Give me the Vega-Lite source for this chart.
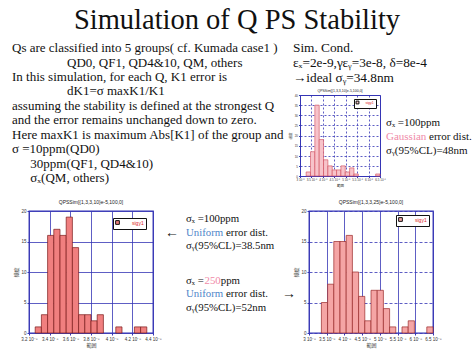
{
  "$schema": "https://vega.github.io/schema/vega-lite/v6.json",
  "padding": 0,
  "background": "white",
  "spacing": 0,
  "resolve": {"scale": {"color": "independent"}, "legend": {"color": "independent"}},
  "config": {
    "view": {"stroke": null},
    "concat": {"spacing": 0},
    "text": {"font": "Liberation Serif", "color": "#111"},
    "title": {"font": "Liberation Sans", "fontSize": 5, "fontWeight": "normal", "offset": 3, "color": "#222"},
    "axis": {
      "labelFont": "Liberation Sans", "labelFontSize": 4.5, "labelColor": "#333", "labelPadding": 1,
      "titleFont": "Noto Sans CJK JP", "titleFontSize": 5, "titleFontWeight": "normal", "titleColor": "#333", "titlePadding": 2,
      "domain": false, "tickColor": "#3535b5", "tickSize": 2, "gridColor": "#3535b5", "gridWidth": 0.8, "gridOpacity": 1,
      "labelOverlap": false, "labelFlush": false
    }
  },
  "datasets": {
    "title": [{"text": "Simulation of Q PS Stability"}],
    "leftA": [
      {"line": 1, "indent": 0, "text": "Qs are classified into 5 groups( cf. Kumada case1 )"},
      {"line": 2, "indent": 12, "text": "QD0, QF1, QD4&10, QM, others"},
      {"line": 3, "indent": 0, "text": "In this simulation, for each Q, K1 error is"}
    ],
    "leftB": [
      {"line": 4, "indent": 12, "text": "dK1=σ maxK1/K1"},
      {"line": 5, "indent": 0, "text": "assuming the stability is defined at the strongest Q"},
      {"line": 6, "indent": 0, "text": "and the error remains unchanged down to zero."},
      {"line": 7, "indent": 0, "text": "Here maxK1 is maximum Abs[K1] of the group and"},
      {"line": 8, "indent": 0, "text": "σ =10ppm(QD0)"},
      {"line": 9, "indent": 4, "text": "30ppm(QF1, QD4&10)"},
      {"line": 10, "indent": 4, "text": "σₓ(QM, others)"}
    ],
    "rightTop": [
      {"line": 1, "indent": 0, "text": "Sim. Cond."},
      {"line": 2, "indent": 0, "text": "εₓ=2e-9,γεᵧ=3e-8, δ=8e-4"},
      {"line": 3, "indent": 0, "text": "→ideal σᵧ=34.8nm"}
    ],
    "sideBlack": [
      {"line": 1, "indent": 0, "text": "σₓ =100ppm"},
      {"line": 3, "indent": 0, "text": "σᵧ(95%CL)=48nm"}
    ],
    "sideGauss": [{"line": 2, "indent": 0, "text": "Gaussian"}],
    "sideAfter": [{"line": 2, "indent": 0, "text": "error dist."}],
    "midBlack": [
      {"line": 1, "indent": 0, "text": "σₓ =100ppm"},
      {"line": 5, "indent": 0, "text": "σᵧ(95%CL)=38.5nm"},
      {"line": 10, "indent": 0, "text": "σₓ ="},
      {"line": 14, "indent": 0, "text": "σᵧ(95%CL)=52nm"}
    ],
    "midUniform": [
      {"line": 3, "indent": 0, "text": "Uniform"},
      {"line": 12, "indent": 0, "text": "Uniform"}
    ],
    "midAfter": [
      {"line": 3, "indent": 0, "text": "error dist."},
      {"line": 12, "indent": 0, "text": "error dist."}
    ],
    "midPink": [{"line": 10, "indent": 0, "text": "250"}],
    "midPpm": [{"line": 10, "indent": 0, "text": "ppm"}],
    "midArrowL": [{"line": 3, "indent": -1, "text": "←"}],
    "midArrowR": [{"line": 12, "indent": 0, "text": "→"}],
    "empty": [],
    "hist0": [
      {"bin_start": 3.27, "bin_end": 3.46, "count": 2},
      {"bin_start": 3.46, "bin_end": 3.65, "count": 12},
      {"bin_start": 3.65, "bin_end": 3.84, "count": 35},
      {"bin_start": 3.84, "bin_end": 4.03, "count": 18},
      {"bin_start": 4.03, "bin_end": 4.22, "count": 8},
      {"bin_start": 4.22, "bin_end": 4.41, "count": 5},
      {"bin_start": 4.41, "bin_end": 4.60, "count": 3},
      {"bin_start": 4.60, "bin_end": 4.79, "count": 3},
      {"bin_start": 4.79, "bin_end": 4.98, "count": 5},
      {"bin_start": 4.98, "bin_end": 5.17, "count": 2},
      {"bin_start": 5.17, "bin_end": 5.36, "count": 4},
      {"bin_start": 5.36, "bin_end": 5.55, "count": 1},
      {"bin_start": 6.31, "bin_end": 6.50, "count": 1}
    ],
    "hist1": [
      {"bin_start": 3.26, "bin_end": 3.32, "count": 1},
      {"bin_start": 3.32, "bin_end": 3.38, "count": 3},
      {"bin_start": 3.38, "bin_end": 3.44, "count": 16},
      {"bin_start": 3.44, "bin_end": 3.50, "count": 17},
      {"bin_start": 3.50, "bin_end": 3.56, "count": 16},
      {"bin_start": 3.56, "bin_end": 3.62, "count": 19},
      {"bin_start": 3.62, "bin_end": 3.68, "count": 14},
      {"bin_start": 3.68, "bin_end": 3.74, "count": 3},
      {"bin_start": 3.74, "bin_end": 3.80, "count": 3},
      {"bin_start": 3.80, "bin_end": 3.86, "count": 2},
      {"bin_start": 3.86, "bin_end": 3.92, "count": 3},
      {"bin_start": 4.04, "bin_end": 4.10, "count": 1},
      {"bin_start": 4.22, "bin_end": 4.28, "count": 1},
      {"bin_start": 4.28, "bin_end": 4.34, "count": 1}
    ],
    "hist2": [
      {"bin_start": 3.35, "bin_end": 3.525, "count": 5},
      {"bin_start": 3.525, "bin_end": 3.70, "count": 8},
      {"bin_start": 3.70, "bin_end": 3.875, "count": 15},
      {"bin_start": 3.875, "bin_end": 4.05, "count": 15},
      {"bin_start": 4.05, "bin_end": 4.225, "count": 16},
      {"bin_start": 4.225, "bin_end": 4.40, "count": 10},
      {"bin_start": 4.40, "bin_end": 4.575, "count": 6},
      {"bin_start": 4.575, "bin_end": 4.75, "count": 2},
      {"bin_start": 4.75, "bin_end": 4.925, "count": 7},
      {"bin_start": 4.925, "bin_end": 5.10, "count": 7},
      {"bin_start": 5.10, "bin_end": 5.275, "count": 4},
      {"bin_start": 5.275, "bin_end": 5.45, "count": 1},
      {"bin_start": 5.625, "bin_end": 5.80, "count": 1},
      {"bin_start": 5.80, "bin_end": 5.975, "count": 2},
      {"bin_start": 6.325, "bin_end": 6.50, "count": 1}
    ]
  },
  "vconcat": [
    {
      "width": 474, "height": 40,
      "data": {"name": "title"},
      "mark": {"type": "text", "font": "Liberation Serif", "fontSize": 28.5, "baseline": "middle", "align": "center", "color": "#111"},
      "encoding": {"text": {"field": "text"}}
    },
    {
      "hconcat": [
        {
          "width": 300, "height": 45,
          "data": {"name": "leftA"},
          "mark": {"type": "text", "align": "left", "baseline": "middle", "fontSize": 13},
          "encoding": {
            "x": {"field": "indent", "type": "quantitative", "scale": {"domain": [0, 12], "range": [12, 67]}, "axis": null},
            "y": {"field": "line", "type": "quantitative", "scale": {"domain": [1, 3], "range": [8, 37]}, "axis": null},
            "text": {"field": "text"}
          }
        },
        {
          "width": 174, "height": 45,
          "data": {"name": "rightTop"},
          "mark": {"type": "text", "align": "left", "baseline": "middle", "fontSize": 13.3},
          "encoding": {
            "x": {"field": "indent", "type": "quantitative", "scale": {"domain": [0, 1], "range": [-7, 40]}, "axis": null},
            "y": {"field": "line", "type": "quantitative", "scale": {"domain": [1, 3], "range": [8, 38]}, "axis": null},
            "text": {"field": "text"}
          }
        }
      ],
      "spacing": 0, "bounds": "flush"
    },
    {
      "hconcat": [
        {
          "width": 300, "height": 104,
          "data": {"name": "leftB"},
          "mark": {"type": "text", "align": "left", "baseline": "middle", "fontSize": 13},
          "encoding": {
            "x": {"field": "indent", "type": "quantitative", "scale": {"domain": [0, 12], "range": [12, 67]}, "axis": null},
            "y": {"field": "line", "type": "quantitative", "scale": {"domain": [4, 10], "range": [-4, 83]}, "axis": null},
            "text": {"field": "text"}
          }
        },
        {
          "width": 80, "height": 81,
          "view": {"stroke": "#3535b5", "strokeWidth": 1},
          "title": {"text": "QPSSim[{1,3,3,10}e-5,100,0]", "fontSize": 3.5, "offset": 2},
          "data": {"name": "hist0"},
          "mark": {"type": "rect", "stroke": "#d04858", "strokeWidth": 0.6},
          "encoding": {
            "x": {"field": "bin_start", "type": "quantitative", "scale": {"domain": [3, 6.5], "nice": false, "zero": false},
              "axis": {"values": [3, 3.5, 4, 4.5, 5, 5.5, 6, 6.5], "format": ".1~f", "labelExpr": "datum.label + ' 10⁻⁸'", "labelFontSize": 3, "title": "範囲", "titleFontSize": 3.5, "gridDash": [2, 2], "tickSize": 1.5}},
            "x2": {"field": "bin_end"},
            "y": {"field": "count", "type": "quantitative", "scale": {"domain": [0, 40], "nice": false},
              "axis": {"values": [0, 5, 10, 15, 20, 25, 30, 35, 40], "labelFontSize": 3, "title": "頻度", "titleFontSize": 3.5, "gridDash": [2, 2], "tickSize": 1.5}},
            "y2": {"datum": 0},
            "color": {"datum": "sigy1", "type": "nominal", "scale": {"range": ["#f7c3ca"]},
              "legend": {"orient": "top-right", "offset": 4, "title": null, "strokeColor": "#111", "fillColor": "white", "padding": 1.5, "labelFontSize": 3.5, "labelColor": "#dd2222", "labelOffset": 6, "symbolType": "square", "symbolSize": 8, "symbolStrokeColor": "#111", "symbolFillColor": "white", "symbolStrokeWidth": 1, "labelFont": "Liberation Sans"}}
          }
        },
        {
          "width": 94, "height": 81,
          "layer": [
            {
              "data": {"name": "sideBlack"},
              "mark": {"type": "text", "align": "left", "baseline": "middle", "fontSize": 11},
              "encoding": {
                "x": {"field": "indent", "type": "quantitative", "scale": {"domain": [0, 1], "range": [6, 50]}, "axis": null},
                "y": {"field": "line", "type": "quantitative", "scale": {"domain": [1, 3], "range": [28, 56]}, "axis": null},
                "text": {"field": "text"}
              }
            },
            {
              "data": {"name": "sideGauss"},
              "mark": {"type": "text", "align": "left", "baseline": "middle", "fontSize": 11, "color": "#f08aa8"},
              "encoding": {
                "x": {"field": "indent", "type": "quantitative", "axis": null},
                "y": {"field": "line", "type": "quantitative", "axis": null},
                "text": {"field": "text"}
              }
            },
            {
              "data": {"name": "sideAfter"},
              "mark": {"type": "text", "align": "left", "baseline": "middle", "fontSize": 11, "dx": 43},
              "encoding": {
                "x": {"field": "indent", "type": "quantitative", "axis": null},
                "y": {"field": "line", "type": "quantitative", "axis": null},
                "text": {"field": "text"}
              }
            }
          ]
        }
      ],
      "spacing": 0, "bounds": "flush",
      "resolve": {"scale": {"color": "independent"}, "legend": {"color": "independent"}}
    },
    {
      "hconcat": [
        {"width": 29, "height": 122, "data": {"name": "empty"}, "mark": "text", "encoding": {}},
        {
          "width": 124, "height": 122,
          "view": {"stroke": "#3535b5", "strokeWidth": 1.3},
          "title": {"text": "QPSSim[{1,3,3,10}e-5,100,0]"},
          "data": {"name": "hist1"},
          "mark": {"type": "rect", "stroke": "#7a1a1a", "strokeWidth": 0.7},
          "encoding": {
            "x": {"field": "bin_start", "type": "quantitative", "scale": {"domain": [3.2, 4.4], "nice": false, "zero": false},
              "axis": {"values": [3.2, 3.4, 3.6, 3.8, 4.0, 4.2, 4.4], "format": ".1~f", "labelExpr": "datum.label + ' 10⁻⁸'", "title": "範囲"}},
            "x2": {"field": "bin_end"},
            "y": {"field": "count", "type": "quantitative", "scale": {"domain": [0, 20], "nice": false},
              "axis": {"values": [0, 5, 10, 15, 20], "title": "頻度"}},
            "y2": {"datum": 0},
            "color": {"datum": "sigy1", "type": "nominal", "scale": {"range": ["#f07f7f"]},
              "legend": {"orient": "top-right", "offset": 7, "title": null, "strokeColor": "#111", "fillColor": "white", "padding": 2, "labelFontSize": 5, "labelColor": "#dd2222", "labelOffset": 12, "symbolType": "square", "symbolSize": 14, "symbolStrokeColor": "#111", "symbolFillColor": "white", "symbolStrokeWidth": 1, "labelFont": "Liberation Sans"}}
          }
        },
        {
          "width": 156, "height": 122,
          "layer": [
            {
              "data": {"name": "midBlack"},
              "mark": {"type": "text", "align": "left", "baseline": "middle", "fontSize": 10.8},
              "encoding": {
                "x": {"field": "indent", "type": "quantitative", "scale": {"domain": [-1, 0], "range": [12, 33]}, "axis": null},
                "y": {"field": "line", "type": "quantitative", "scale": {"domain": [1, 14], "range": [8, 97]}, "axis": null},
                "text": {"field": "text"}
              }
            },
            {
              "data": {"name": "midUniform"},
              "mark": {"type": "text", "align": "left", "baseline": "middle", "fontSize": 10.8, "color": "#4f86c9"},
              "encoding": {
                "x": {"field": "indent", "type": "quantitative", "axis": null},
                "y": {"field": "line", "type": "quantitative", "axis": null},
                "text": {"field": "text"}
              }
            },
            {
              "data": {"name": "midAfter"},
              "mark": {"type": "text", "align": "left", "baseline": "middle", "fontSize": 10.8, "dx": 40},
              "encoding": {
                "x": {"field": "indent", "type": "quantitative", "axis": null},
                "y": {"field": "line", "type": "quantitative", "axis": null},
                "text": {"field": "text"}
              }
            },
            {
              "data": {"name": "midPink"},
              "mark": {"type": "text", "align": "left", "baseline": "middle", "fontSize": 10.8, "dx": 18.5, "color": "#f08aa8"},
              "encoding": {
                "x": {"field": "indent", "type": "quantitative", "axis": null},
                "y": {"field": "line", "type": "quantitative", "axis": null},
                "text": {"field": "text"}
              }
            },
            {
              "data": {"name": "midPpm"},
              "mark": {"type": "text", "align": "left", "baseline": "middle", "fontSize": 10.8, "dx": 34.8},
              "encoding": {
                "x": {"field": "indent", "type": "quantitative", "axis": null},
                "y": {"field": "line", "type": "quantitative", "axis": null},
                "text": {"field": "text"}
              }
            },
            {
              "data": {"name": "midArrowL"},
              "mark": {"type": "text", "align": "left", "baseline": "middle", "fontSize": 14},
              "encoding": {
                "x": {"field": "indent", "type": "quantitative", "axis": null},
                "y": {"field": "line", "type": "quantitative", "axis": null},
                "text": {"field": "text"}
              }
            },
            {
              "data": {"name": "midArrowR"},
              "mark": {"type": "text", "align": "left", "baseline": "middle", "fontSize": 14, "dx": 96},
              "encoding": {
                "x": {"field": "indent", "type": "quantitative", "axis": null},
                "y": {"field": "line", "type": "quantitative", "axis": null},
                "text": {"field": "text"}
              }
            }
          ]
        },
        {
          "width": 124, "height": 122,
          "view": {"stroke": "#3535b5", "strokeWidth": 1.3},
          "title": {"text": "QPSSim[{1,3,3,25}e-5,100,0]"},
          "data": {"name": "hist2"},
          "mark": {"type": "rect", "stroke": "#9a2a2a", "strokeWidth": 0.7},
          "encoding": {
            "x": {"field": "bin_start", "type": "quantitative", "scale": {"domain": [3, 6.5], "nice": false, "zero": false},
              "axis": {"values": [3, 3.5, 4, 4.5, 5, 5.5, 6, 6.5], "format": ".1~f", "labelExpr": "datum.label + ' 10⁻⁸'", "title": "範囲"}},
            "x2": {"field": "bin_end"},
            "y": {"field": "count", "type": "quantitative", "scale": {"domain": [0, 20], "nice": false},
              "axis": {"values": [0, 5, 10, 15, 20], "title": "頻度", "gridDash": [3, 2]}},
            "y2": {"datum": 0},
            "color": {"datum": "sigy1", "type": "nominal", "scale": {"range": ["#f5a5a5"]},
              "legend": {"orient": "top-right", "offset": 4, "title": null, "strokeColor": "#111", "fillColor": "white", "padding": 2, "labelFontSize": 5, "labelColor": "#dd2222", "labelOffset": 12, "symbolType": "square", "symbolSize": 14, "symbolStrokeColor": "#111", "symbolFillColor": "white", "symbolStrokeWidth": 1, "labelFont": "Liberation Sans"}}
          }
        }
      ],
      "spacing": 0, "bounds": "flush",
      "resolve": {"scale": {"color": "independent"}, "legend": {"color": "independent"}}
    }
  ]
}
